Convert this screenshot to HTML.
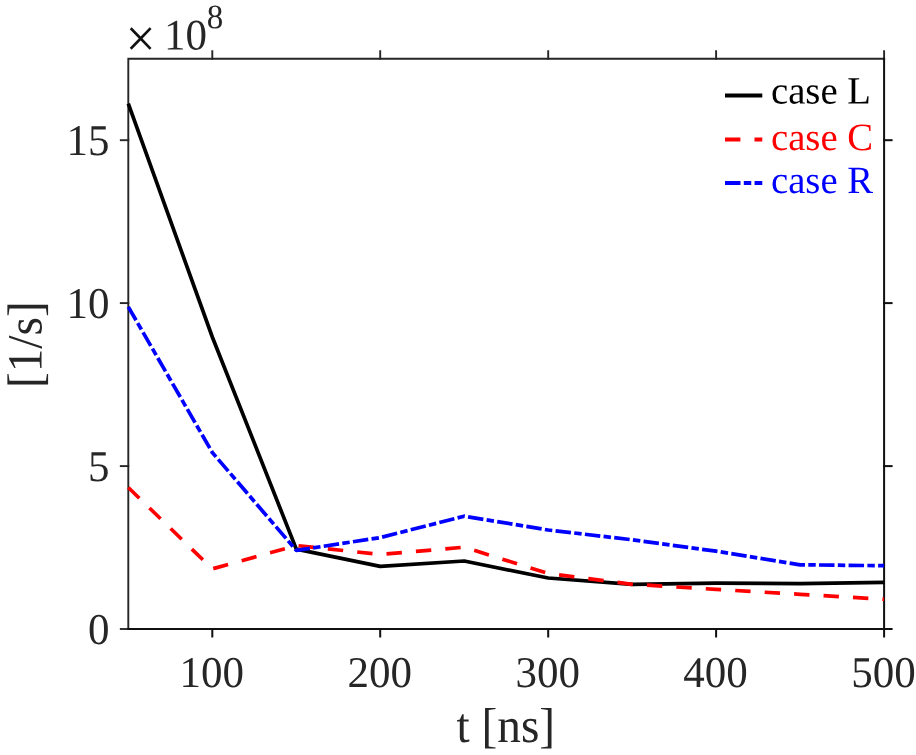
<!DOCTYPE html>
<html><head><meta charset="utf-8"><title>plot</title>
<style>
html,body{margin:0;padding:0;background:#fff;}
body{width:916px;height:755px;overflow:hidden;}
svg{display:block;}
text{font-family:"Liberation Serif","Times New Roman",serif;fill:#262626;}
.tk{font-size:43px;}
.lb{font-size:47.3px;}
.lg{font-size:38.7px;}
</style></head><body>
<svg width="916" height="755" viewBox="0 0 916 755">
<rect width="916" height="755" fill="#fff"/>
<g stroke="#262626" stroke-width="1.9" fill="none" stroke-linecap="square">
<path d="M128.3 629.0V58.7H884.1"/>
<path d="M212.3 58.7v-7.5"/>
<path d="M380.2 58.7v-7.5"/>
<path d="M548.2 58.7v-7.5"/>
<path d="M716.1 58.7v-7.5"/>
<path d="M884.1 58.7v-7.5"/>
<path d="M128.3 629.0h-7.5"/>
<path d="M128.3 466.1h-7.5"/>
<path d="M128.3 303.1h-7.5"/>
<path d="M128.3 140.2h-7.5"/>
</g>
<g stroke="#101010" stroke-width="2" fill="none" stroke-linecap="square">
<path d="M128.3 629.0H884.1V58.7"/>
<path d="M212.3 629.0v7.5"/>
<path d="M380.2 629.0v7.5"/>
<path d="M548.2 629.0v7.5"/>
<path d="M716.1 629.0v7.5"/>
<path d="M884.1 629.0v7.5"/>
<path d="M884.1 629.0h7.5"/>
<path d="M884.1 466.1h7.5"/>
<path d="M884.1 303.1h7.5"/>
<path d="M884.1 140.2h7.5"/>
</g>
<g fill="none" stroke-width="3.7" stroke-linejoin="round">
<polyline points="128.3,103.7 212.3,337.0 296.3,549.1 380.2,566.4 464.2,561.0 548.2,578.0 632.2,584.3 716.1,583.2 800.1,583.6 884.1,582.3" stroke="#000"/>
<polyline points="128.3,487.5 212.3,568.9 296.3,545.5 380.2,554.5 464.2,547.2 548.2,573.5 632.2,584.3 716.1,589.4 800.1,594.3 884.1,599.3" stroke="#f00" stroke-dasharray="15.4 14.09"/>
<polyline points="128.3,306.8 212.3,452.5 296.3,550.4 380.2,537.6 464.2,516.2 548.2,530.0 632.2,539.8 716.1,551.2 800.1,564.8 884.1,565.7" stroke="#00f" stroke-dasharray="15.5 3.3 7.44 3.3"/>
</g>
<text class="tk" transform="translate(211.8 687.0) rotate(0.03) scale(1 1.02)" text-anchor="middle">100</text>
<text class="tk" transform="translate(379.7 687.0) rotate(0.03) scale(1 1.02)" text-anchor="middle">200</text>
<text class="tk" transform="translate(547.7 687.0) rotate(0.03) scale(1 1.02)" text-anchor="middle">300</text>
<text class="tk" transform="translate(715.6 687.0) rotate(0.03) scale(1 1.02)" text-anchor="middle">400</text>
<text class="tk" transform="translate(883.6 687.0) rotate(0.03) scale(1 1.02)" text-anchor="middle">500</text>
<text class="tk" transform="translate(109.6 643.9) rotate(0.03) scale(1 1.025)" text-anchor="end">0</text>
<text class="tk" transform="translate(109.6 481.0) rotate(0.03) scale(1 1.025)" text-anchor="end">5</text>
<text class="tk" transform="translate(109.6 318.0) rotate(0.03) scale(1 1.025)" text-anchor="end">10</text>
<text class="tk" transform="translate(109.6 155.1) rotate(0.03) scale(1 1.025)" text-anchor="end">15</text>
<text transform="translate(125.6 56.9) rotate(0.03) scale(1 1.04)" style="font-size:53.6px;fill:#111">×</text>
<text class="tk" transform="translate(164.0 49.5) rotate(0.03) scale(1 1.015)">10</text>
<text transform="translate(206.8 28.2) rotate(0.03) scale(1 1.04)" style="font-size:33px">8</text>
<text class="lb" transform="translate(505.8 742.0) rotate(0.03) scale(1 1.04)" text-anchor="middle">t [ns]</text>
<text class="lb" transform="translate(41.6 344.7) rotate(-89.97) scale(1 1.04)" text-anchor="middle">[1/s]</text>
<path d="M725 95.4H762.3" stroke="#000" stroke-width="4" fill="none"/>
<text class="lg" transform="translate(771.0 103.5) rotate(0.03) scale(1 1.0)" style="fill:#000">case L</text>
<path d="M725 139.5H762.3" stroke="#f00" stroke-width="4" fill="none" stroke-dasharray="15.4 14.09"/>
<text class="lg" transform="translate(771.0 150.0) rotate(0.03) scale(1 1.0)" style="fill:#f00">case C</text>
<path d="M725 183.1H762.3" stroke="#00f" stroke-width="4" fill="none" stroke-dasharray="15.5 3.3 7.44 3.3"/>
<text class="lg" transform="translate(771.0 193.0) rotate(0.03) scale(1 1.0)" style="fill:#00f">case R</text>
</svg></body></html>
